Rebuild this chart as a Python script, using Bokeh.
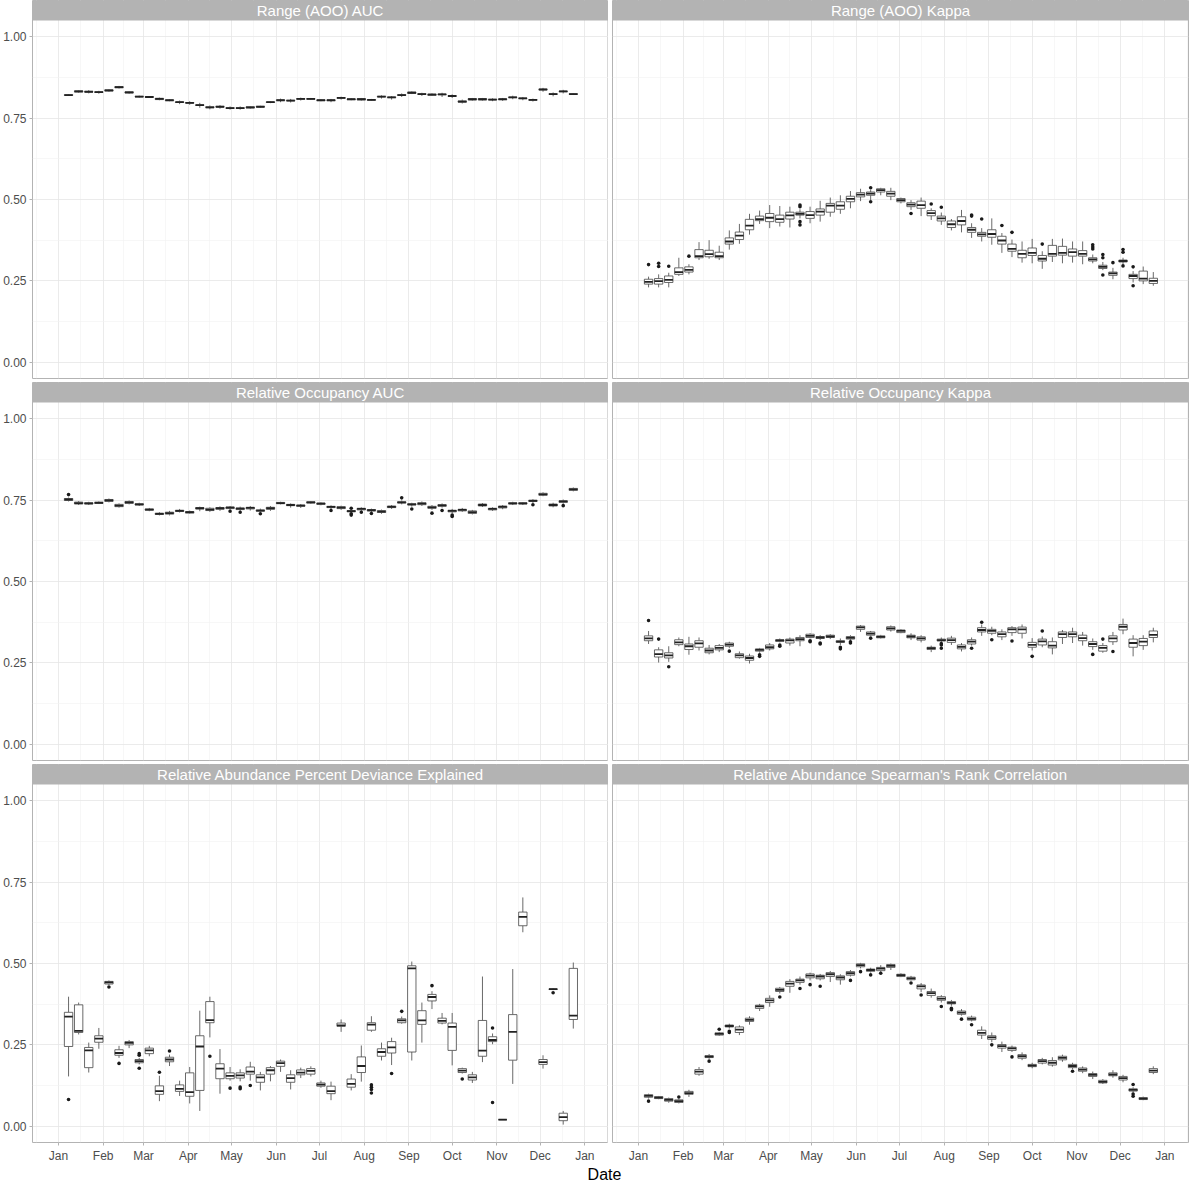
import numpy as np
from bokeh.plotting import figure
from bokeh.layouts import column, row
from bokeh.models import ColumnDataSource, FixedTicker, Label, NumeralTickFormatter, BoxAnnotation
from bokeh.embed import file_html
from bokeh.resources import INLINE

# ---------------- data ----------------
week_days = list(range(7, 358, 7))          # 51 weekly dates (day of year)
month_days = [0, 31, 59, 90, 120, 151, 181, 212, 243, 273, 304, 334, 365]
month_labels = ["Jan", "Feb", "Mar", "Apr", "May", "Jun", "Jul", "Aug",
                "Sep", "Oct", "Nov", "Dec", "Jan"]
y_ticks = [0.0, 0.25, 0.5, 0.75, 1.0]

titles = ["Range (AOO) AUC", "Range (AOO) Kappa",
          "Relative Occupancy AUC", "Relative Occupancy Kappa",
          "Relative Abundance Percent Deviance Explained",
          "Relative Abundance Spearman's Rank Correlation"]

# Range (AOO) AUC
ra_lo = [0.818,0.828,0.826,0.825,0.831,0.841,0.825,0.813,0.812,0.805, 0.802,0.793,0.791,0.782,0.777,0.779,0.776,0.776,0.779,0.782,
         0.796,0.799,0.798,0.804,0.806,0.802,0.799,0.807,0.805,0.804, 0.803,0.810,0.807,0.815,0.824,0.818,0.818,0.815,0.812,0.795,
         0.804,0.804,0.802,0.803,0.808,0.805,0.801,0.831,0.817,0.826,0.821]
ra_q1 = [0.820,0.830,0.830,0.829,0.833,0.843,0.827,0.815,0.814,0.807, 0.804,0.798,0.796,0.789,0.782,0.784,0.780,0.780,0.781,0.784,
         0.798,0.804,0.803,0.808,0.808,0.804,0.804,0.811,0.807,0.806, 0.805,0.815,0.813,0.820,0.826,0.823,0.820,0.822,0.817,0.799,
         0.806,0.806,0.806,0.807,0.813,0.810,0.805,0.837,0.823,0.831,0.823]
ra_med = [0.821,0.832,0.831,0.830,0.835,0.845,0.829,0.816,0.815,0.809, 0.805,0.799,0.797,0.790,0.783,0.785,0.781,0.781,0.783,0.785,
          0.799,0.805,0.804,0.809,0.809,0.805,0.805,0.812,0.808,0.808, 0.806,0.816,0.814,0.821,0.828,0.824,0.822,0.823,0.818,0.801,
          0.808,0.808,0.807,0.808,0.814,0.811,0.806,0.838,0.824,0.832,0.824]
ra_q3 = [0.822,0.834,0.832,0.831,0.837,0.847,0.831,0.817,0.816,0.811, 0.806,0.800,0.798,0.791,0.785,0.786,0.782,0.782,0.785,0.786,
         0.800,0.806,0.805,0.810,0.810,0.806,0.806,0.813,0.809,0.810, 0.807,0.817,0.815,0.822,0.830,0.825,0.824,0.824,0.819,0.803,
         0.810,0.810,0.808,0.809,0.815,0.812,0.807,0.839,0.825,0.833,0.825]
ra_hi = [0.824,0.836,0.836,0.834,0.839,0.849,0.833,0.819,0.818,0.813, 0.808,0.804,0.802,0.797,0.789,0.790,0.786,0.786,0.787,0.788,
         0.802,0.810,0.809,0.813,0.812,0.808,0.809,0.816,0.811,0.812, 0.809,0.820,0.818,0.826,0.832,0.828,0.826,0.828,0.823,0.807,
         0.812,0.812,0.811,0.812,0.819,0.815,0.810,0.843,0.829,0.837,0.827]
ra_out_wk = []
ra_out_val = []

# Range (AOO) Kappa
rk_lo = [0.230,0.230,0.230,0.265,0.270,0.314,0.318,0.314,0.346,0.364, 0.392,0.425,0.412,0.417,0.414,0.442,0.427,0.432,0.447,0.456,
         0.473,0.495,0.498,0.513,0.498,0.488,0.468,0.449,0.437,0.422, 0.405,0.399,0.382,0.371,0.361,0.336,0.323,0.306,0.304,0.287,
         0.308,0.304,0.306,0.301,0.304,0.283,0.255,0.301,0.245,0.240,0.235]
rk_q1 = [0.240,0.240,0.245,0.270,0.277,0.321,0.324,0.321,0.363,0.377, 0.407,0.435,0.432,0.430,0.440,0.452,0.442,0.452,0.461,0.470,
         0.493,0.508,0.513,0.523,0.510,0.493,0.478,0.473,0.450,0.434, 0.414,0.422,0.399,0.387,0.384,0.363,0.341,0.321,0.328,0.311,
         0.326,0.329,0.326,0.326,0.311,0.288,0.267,0.308,0.257,0.250,0.242]
rk_med = [0.247,0.249,0.253,0.277,0.284,0.326,0.332,0.326,0.371,0.389, 0.420,0.440,0.444,0.440,0.451,0.456,0.452,0.463,0.481,0.481,
          0.502,0.515,0.518,0.529,0.518,0.498,0.484,0.483,0.458,0.442, 0.424,0.434,0.407,0.393,0.394,0.374,0.348,0.333,0.336,0.318,
          0.333,0.336,0.338,0.333,0.316,0.293,0.273,0.311,0.265,0.257,0.250]
rk_q3 = [0.255,0.257,0.265,0.290,0.293,0.346,0.344,0.338,0.382,0.400, 0.439,0.449,0.457,0.452,0.461,0.461,0.463,0.471,0.488,0.493,
         0.510,0.521,0.523,0.533,0.525,0.503,0.490,0.495,0.466,0.449, 0.434,0.447,0.414,0.399,0.407,0.387,0.363,0.344,0.351,0.328,
         0.359,0.356,0.348,0.343,0.321,0.298,0.277,0.314,0.270,0.280,0.258]
rk_hi = [0.263,0.270,0.275,0.321,0.301,0.369,0.375,0.358,0.405,0.425, 0.456,0.466,0.483,0.480,0.478,0.470,0.478,0.496,0.506,0.513,
         0.526,0.533,0.530,0.536,0.536,0.506,0.498,0.506,0.473,0.460, 0.440,0.468,0.427,0.412,0.442,0.397,0.377,0.371,0.379,0.341,
         0.379,0.380,0.371,0.371,0.331,0.308,0.290,0.321,0.280,0.294,0.277]
rk_out_wk = [1,2,2,3,5,16,16,16,16,23,23,27,29,30,33,33,34,36,37,40,45,45,45,46,46,46,47,48,48,48,49,49]
rk_out_val = [0.300,0.304,0.294,0.295,0.326,0.483,0.478,0.432,0.422,0.536,0.493,0.457,0.486,0.476,0.452,0.449,0.440,0.420,
              0.399,0.363,0.361,0.354,0.348,0.331,0.321,0.268,0.306,0.346,0.338,0.296,0.293,0.235]

# Relative Occupancy AUC
oa_lo = [0.746,0.735,0.735,0.738,0.743,0.727,0.737,0.732,0.716,0.703, 0.703,0.712,0.708,0.716,0.714,0.717,0.720,0.717,0.718,0.713,
         0.717,0.737,0.727,0.726,0.739,0.734,0.722,0.720,0.712,0.717, 0.713,0.708,0.723,0.737,0.730,0.732,0.720,0.727,0.710,0.714,
         0.706,0.729,0.717,0.722,0.735,0.735,0.741,0.762,0.728,0.739,0.777]
oa_q1 = [0.749,0.738,0.738,0.740,0.746,0.730,0.740,0.735,0.719,0.706, 0.707,0.715,0.710,0.723,0.718,0.722,0.724,0.721,0.723,0.716,
         0.722,0.739,0.733,0.731,0.741,0.737,0.727,0.724,0.714,0.720, 0.717,0.712,0.727,0.741,0.735,0.736,0.725,0.731,0.714,0.717,
         0.709,0.732,0.720,0.726,0.738,0.738,0.746,0.765,0.732,0.743,0.780]
oa_med = [0.752,0.741,0.740,0.742,0.749,0.733,0.743,0.737,0.721,0.708, 0.710,0.717,0.713,0.725,0.721,0.725,0.727,0.724,0.726,0.718,
          0.725,0.741,0.735,0.733,0.743,0.739,0.729,0.727,0.716,0.723, 0.719,0.715,0.729,0.743,0.737,0.739,0.728,0.734,0.717,0.720,
          0.713,0.735,0.723,0.729,0.740,0.740,0.748,0.768,0.735,0.746,0.783]
oa_q3 = [0.755,0.744,0.742,0.743,0.752,0.737,0.746,0.739,0.723,0.710, 0.713,0.719,0.715,0.727,0.725,0.727,0.729,0.726,0.728,0.720,
         0.728,0.743,0.737,0.735,0.745,0.741,0.731,0.730,0.718,0.725, 0.721,0.718,0.732,0.745,0.739,0.742,0.731,0.736,0.719,0.722,
         0.717,0.738,0.725,0.732,0.742,0.742,0.750,0.771,0.738,0.748,0.786]
oa_hi = [0.758,0.747,0.745,0.746,0.755,0.740,0.749,0.742,0.726,0.713, 0.717,0.723,0.718,0.730,0.728,0.731,0.732,0.730,0.732,0.724,
         0.732,0.745,0.740,0.738,0.747,0.743,0.734,0.733,0.721,0.728, 0.724,0.721,0.735,0.749,0.742,0.746,0.735,0.740,0.723,0.726,
         0.720,0.741,0.728,0.735,0.745,0.744,0.753,0.774,0.742,0.752,0.789]
oa_out_wk = [1,17,18,20,27,29,29,29,30,31,34,35,37,38,39,39,47,50]
oa_out_val = [0.767,0.716,0.713,0.708,0.718,0.725,0.708,0.704,0.713,0.709,0.757,0.723,0.710,0.718,0.704,0.700,0.736,0.733]

# Relative Occupancy Kappa
ok_lo = [0.308,0.251,0.253,0.301,0.275,0.288,0.276,0.283,0.295,0.263, 0.248,0.281,0.288,0.313,0.303,0.301,0.325,0.320,0.323,0.305,
         0.318,0.345,0.333,0.325,0.346,0.341,0.320, 0.313,0.283,0.313,0.305,0.285,0.303,0.333,0.335,0.320,0.333,
         0.325,0.288,0.298,0.276,0.308,0.311,0.303,0.290,0.281,0.305, 0.338,0.270,0.290,0.313]
ok_q1 = [0.318,0.268,0.265,0.306,0.291,0.298,0.281,0.290,0.301,0.266, 0.258,0.286,0.293,0.316,0.311,0.318,0.328,0.325,0.328,0.313,
         0.323,0.353,0.335,0.327,0.351,0.343,0.327, 0.320,0.291,0.317,0.313,0.293,0.308,0.345,0.341,0.330,0.343,
         0.341,0.298,0.305,0.296,0.328,0.330,0.318,0.300,0.286,0.315, 0.351,0.298,0.303,0.328]
ok_med = [0.325,0.277,0.273,0.313,0.301,0.310,0.288,0.296,0.306,0.273, 0.265,0.290,0.298,0.319,0.319,0.323,0.333,0.328,0.331,0.315,
          0.327,0.359,0.340,0.330,0.356,0.348,0.331, 0.325,0.295,0.320,0.320,0.299,0.315,0.351,0.348,0.338,0.353,
          0.353,0.305,0.316,0.303,0.338,0.338,0.326,0.308,0.296,0.325, 0.361,0.311,0.315,0.336]
ok_q3 = [0.333,0.290,0.281,0.321,0.308,0.318,0.295,0.303,0.311,0.278, 0.271,0.293,0.305,0.321,0.323,0.328,0.338,0.331,0.335,0.318,
         0.331,0.363,0.345,0.333,0.361,0.351,0.335, 0.330,0.298,0.323,0.326,0.305,0.321,0.358,0.353,0.345,0.358,
         0.360,0.313,0.323,0.315,0.345,0.345,0.335,0.315,0.303,0.333, 0.368,0.323,0.325,0.348]
ok_hi = [0.348,0.298,0.301,0.328,0.330,0.328,0.305,0.308,0.315,0.285, 0.278,0.296,0.311,0.325,0.328,0.335,0.341,0.335,0.338,0.325,
         0.335,0.366,0.348,0.336,0.365,0.353,0.341, 0.335,0.303,0.328,0.333,0.311,0.328,0.368,0.361,0.353,0.363,
         0.368,0.326,0.331,0.328,0.351,0.358,0.345,0.325,0.311,0.345, 0.386,0.335,0.335,0.358]
ok_out_wk = [1,2,3,9,12,12,14,14,17,17,18,18,20,20,21,21,23,30,30,30,33,34,35,37,39,40,45,46,47]
ok_out_val = [0.380,0.323,0.238,0.286,0.275,0.270,0.305,0.301,0.318,0.315,0.311,0.308,0.298,0.293,0.315,0.311,0.326,
              0.309,0.305,0.295,0.295,0.375,0.321,0.317,0.270,0.348,0.276,0.323,0.285]

# Relative Abundance Percent Deviance Explained (week 47 missing)
pd_lo = [0.153,0.282,0.165,0.238,0.434,0.210,0.240,0.190,0.215,0.077, 0.185,0.093,0.070,0.047,0.273,0.100,0.140,0.138,0.140,0.110,
         0.138,0.167,0.113,0.148,0.153,0.118,0.080,0.290,0.110,0.137, 0.290,0.202,0.188,0.315,0.202,0.257,0.360,0.313,0.187,0.162,
         0.133,0.197,0.252,0.020,0.130,0.596,None,0.177,0.418,0.005,0.300]
pd_q1 = [0.245,0.288,0.180,0.258,0.437,0.218,0.250,0.195,0.223,0.098, 0.198,0.107,0.092,0.110,0.318,0.146,0.146,0.148,0.160,0.135,
         0.160,0.184,0.135,0.158,0.160,0.123,0.100,0.307,0.120,0.165, 0.295,0.215,0.225,0.318,0.228,0.313,0.385,0.317,0.233,0.165,
         0.142,0.215,0.260,0.020,0.203,0.616,None,0.190,0.420,0.017,0.328]
pd_med = [0.337,0.293,0.233,0.269,0.442,0.225,0.256,0.200,0.233,0.108, 0.205,0.115,0.105,0.245,0.326,0.177,0.155,0.156,0.168,0.150,
          0.172,0.194,0.148,0.165,0.170,0.128,0.108,0.310,0.130,0.185, 0.312,0.228,0.242,0.325,0.485,0.325,0.397,0.324,0.305,0.171,
          0.150,0.232,0.265,0.020,0.290,0.643,None,0.197,0.421,0.028,0.340]
pd_q3 = [0.350,0.373,0.242,0.278,0.445,0.235,0.260,0.205,0.240,0.124, 0.212,0.127,0.164,0.278,0.383,0.192,0.164,0.164,0.182,0.158,
         0.180,0.200,0.158,0.173,0.177,0.133,0.123,0.317,0.145,0.213, 0.318,0.238,0.260,0.330,0.493,0.355,0.405,0.332,0.317,0.177,
         0.158,0.325,0.275,0.020,0.343,0.658,None,0.205,0.422,0.040,0.485]
pd_hi = [0.398,0.380,0.257,0.302,0.448,0.247,0.265,0.210,0.247,0.155, 0.220,0.140,0.182,0.355,0.398,0.237,0.182,0.175,0.198,0.167,
         0.185,0.205,0.172,0.180,0.184,0.140,0.137,0.328,0.160,0.248, 0.338,0.257,0.272,0.337,0.506,0.380,0.415,0.348,0.348,0.180,
         0.167,0.460,0.285,0.020,0.483,0.703,None,0.218,0.424,0.047,0.503]
pd_out_wk = [1,5,6,8,8,8,10,11,15,17,18,18,19,31,31,31,31,33,34,37,40,43,43,49]
pd_out_val = [0.082,0.428,0.193,0.223,0.218,0.178,0.166,0.231,0.215,0.117,0.120,0.115,0.125,0.127,0.120,0.113,0.102,
              0.162,0.353,0.432,0.145,0.302,0.073,0.410]

# Relative Abundance Spearman's Rank Correlation
sp_lo = [0.085,0.083,0.072,0.070,0.090,0.155,0.207,0.278,0.300,0.280, 0.312,0.354,0.367,0.408,0.410,0.435,0.448,0.448,0.443,0.435,
         0.460,0.485,0.472,0.474,0.480,0.458,0.448, 0.412,0.395,0.380,0.370,0.340,0.322,0.268,0.258,0.228,0.228,
         0.203,0.178,0.190,0.183,0.198,0.175,0.163,0.145,0.130,0.149, 0.135,0.103,0.080,0.160]
sp_q1 = [0.089,0.085,0.077,0.073,0.098,0.160,0.211,0.280,0.305,0.288, 0.322,0.362,0.380,0.414,0.430,0.442,0.456,0.453,0.460,0.450,
         0.464,0.490,0.476,0.478,0.488,0.460,0.450, 0.422,0.402,0.387,0.376,0.344,0.326,0.280,0.267,0.240,0.233,
         0.209,0.183,0.194,0.188,0.204,0.180,0.169,0.153,0.133,0.155, 0.142,0.108,0.082,0.165]
sp_med = [0.093,0.088,0.081,0.077,0.102,0.168,0.214,0.284,0.308,0.297, 0.327,0.368,0.387,0.419,0.438,0.448,0.463,0.460,0.467,0.457,
          0.470,0.495,0.480,0.484,0.493,0.464,0.454, 0.430,0.409,0.392,0.379,0.349,0.330,0.287,0.273,0.246,0.239,
          0.215,0.186,0.200,0.195,0.210,0.185,0.174,0.158,0.136,0.159, 0.148,0.112,0.085,0.171]
sp_q3 = [0.097,0.091,0.085,0.081,0.107,0.174,0.217,0.287,0.311,0.305, 0.332,0.372,0.393,0.424,0.445,0.452,0.468,0.464,0.472,0.462,
         0.475,0.499,0.483,0.488,0.497,0.467,0.458, 0.434,0.414,0.398,0.383,0.354,0.335,0.295,0.278,0.251,0.243,
         0.220,0.190,0.205,0.202,0.215,0.190,0.179,0.162,0.141,0.164, 0.153,0.115,0.088,0.177]
sp_hi = [0.100,0.093,0.088,0.085,0.112,0.182,0.222,0.290,0.315,0.310, 0.338,0.376,0.402,0.428,0.452,0.460,0.472,0.468,0.477,0.467,
         0.480,0.502,0.487,0.495,0.500,0.470,0.462, 0.440,0.423,0.403,0.388,0.360,0.340,0.307,0.288,0.260,0.248,
         0.227,0.195,0.210,0.212,0.220,0.195,0.184,0.168,0.145,0.172, 0.158,0.120,0.091,0.184]
sp_out_wk = [1,4,7,8,9,9,14,16,17,18,21,22,23,24,27,28,30,31,31,32,33,35,37,43,49,49,49]
sp_out_val = [0.077,0.090,0.200,0.298,0.292,0.288,0.397,0.423,0.435,0.430,0.448,0.475,0.465,0.470,0.440,0.403,
              0.368,0.362,0.358,0.329,0.312,0.250,0.213,0.169,0.128,0.099,0.092]

# ---------------- style ----------------
FONT = "Liberation Sans"
STRIP = "#B3B3B3"
BORDER = "#B3B3B3"
BOX_LINE = "#444444"
MED_LINE = "#222222"
X0, X1 = -18.0, 381.4
Y0, Y1 = -0.05, 1.05
BOX_W = 5.8
FW, FH = 576, 358           # panel area (without strip)
STRIP_H = 20                # strip height in px
STRIP_TOP = Y1 + STRIP_H * (Y1 - Y0) / FH

mid_month = [(a + b) / 2 for a, b in zip(month_days[:-1], month_days[1:])] + [-15.5, 380.5]
y_minor = [0.125, 0.375, 0.625, 0.875]


def arr(a):
    return np.array([np.nan if v is None else v for v in a], dtype=float)


def panel(title, lo, q1, med, q3, hi, out_wk, out_val, left, bottom):
    p = figure(frame_width=FW, frame_height=FH + STRIP_H, x_range=(X0, X1), y_range=(Y0, STRIP_TOP),
               output_backend="svg", toolbar_location=None, tools="")
    p.min_border_left = 0 if left else 4
    p.min_border_right = 0 if left else 2
    p.min_border_top = 0
    p.min_border_bottom = 0 if bottom else 4
    p.background_fill_color = "white"
    p.border_fill_color = "white"
    p.outline_line_color = BORDER
    p.outline_line_width = 1

    xt = FixedTicker(ticks=month_days, minor_ticks=mid_month)
    yt = FixedTicker(ticks=y_ticks, minor_ticks=y_minor)
    p.xaxis.ticker = xt
    p.yaxis.ticker = yt
    p.xgrid.ticker = xt
    p.ygrid.ticker = yt
    for g in (p.xgrid, p.ygrid):
        g.grid_line_color = "#E6E6E6"
        g.grid_line_width = 0.8
        g.minor_grid_line_color = "#F1F1F1"
        g.minor_grid_line_width = 0.6

    p.xaxis.major_label_overrides = {d: s for d, s in zip(month_days, month_labels)}
    p.yaxis.formatter = NumeralTickFormatter(format="0.00")
    for ax in (p.xaxis, p.yaxis):
        ax.axis_line_color = None
        ax.major_tick_in = 0
        ax.major_tick_out = 3
        ax.major_tick_line_color = BORDER
        ax.minor_tick_line_color = None
        ax.major_label_text_font = FONT
        ax.major_label_text_font_size = "12px"
        ax.major_label_text_color = "#4D4D4D"
        ax.major_label_standoff = 2
    p.xaxis.visible = bottom
    p.yaxis.visible = left

    x = np.array(week_days, dtype=float)
    src = ColumnDataSource(dict(x=x, xl=x - BOX_W / 2, xr=x + BOX_W / 2,
                                lo=arr(lo), q1=arr(q1), med=arr(med), q3=arr(q3), hi=arr(hi)))
    p.segment(x0="x", y0="q3", x1="x", y1="hi", source=src, line_color=BOX_LINE, line_width=0.8)
    p.segment(x0="x", y0="lo", x1="x", y1="q1", source=src, line_color=BOX_LINE, line_width=0.8)
    p.vbar(x="x", width=BOX_W, bottom="q1", top="q3", source=src,
           fill_color="white", line_color=BOX_LINE, line_width=0.8)
    p.segment(x0="xl", y0="med", x1="xr", y1="med", source=src, line_color=MED_LINE, line_width=1.8)
    if out_wk:
        ox = [week_days[w - 1] for w in out_wk]
        p.scatter(x=ox, y=out_val, size=3.6, color="#1a1a1a", line_width=0)

    # facet strip
    p.add_layout(BoxAnnotation(bottom=Y1, fill_color=STRIP, fill_alpha=1.0, line_color=None))
    p.add_layout(Label(x=(X0 + X1) / 2, y=(Y1 + STRIP_TOP) / 2, text=title, text_align="center",
                       text_baseline="middle", text_color="white", text_font=FONT,
                       text_font_size="15px"))
    return p


p1 = panel(titles[0], ra_lo, ra_q1, ra_med, ra_q3, ra_hi, ra_out_wk, ra_out_val, True, False)
p2 = panel(titles[1], rk_lo, rk_q1, rk_med, rk_q3, rk_hi, rk_out_wk, rk_out_val, False, False)
p3 = panel(titles[2], oa_lo, oa_q1, oa_med, oa_q3, oa_hi, oa_out_wk, oa_out_val, True, False)
p4 = panel(titles[3], ok_lo, ok_q1, ok_med, ok_q3, ok_hi, ok_out_wk, ok_out_val, False, False)
p5 = panel(titles[4], pd_lo, pd_q1, pd_med, pd_q3, pd_hi, pd_out_wk, pd_out_val, True, True)
p6 = panel(titles[5], sp_lo, sp_q1, sp_med, sp_q3, sp_hi, sp_out_wk, sp_out_val, False, True)

pdate = figure(width=1184, height=18, x_range=(0, 1), y_range=(0, 1), output_backend="svg",
               toolbar_location=None, tools="", x_axis_location=None, y_axis_location=None,
               min_border=0)
pdate.outline_line_color = None
pdate.grid.visible = False
pdate.add_layout(Label(x=604, y=9, x_units="screen", y_units="screen", text="Date",
                       text_align="center", text_baseline="middle", text_font=FONT,
                       text_font_size="16px", text_color="black"))

layout = column(row(p1, p2), row(p3, p4), row(p5, p6), pdate)
open("out.html", "w").write(file_html(layout, INLINE))
